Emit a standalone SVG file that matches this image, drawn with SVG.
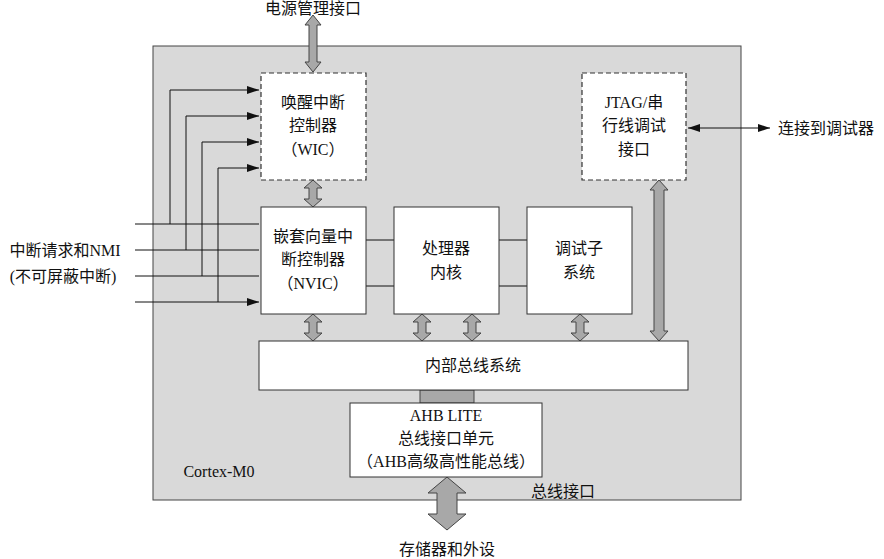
<svg xmlns="http://www.w3.org/2000/svg" width="884" height="559" viewBox="0 0 884 559">
<style>
text{font-family:"Liberation Serif","Noto Sans CJK SC",serif;font-size:16px;fill:#111;text-anchor:middle}
.box{fill:#fff;stroke:#333;stroke-width:1}
.dash{fill:#fff;stroke:#333;stroke-width:1.2;stroke-dasharray:5,3}
.ba{fill:#a8a8a8;stroke:#444;stroke-width:1}
.ln{fill:none;stroke:#111;stroke-width:1}
</style>
<defs>
<marker id="ah" markerWidth="12" markerHeight="8" refX="12" refY="4" orient="auto" markerUnits="userSpaceOnUse"><path d="M0,0 L12,4 L0,8 Z" fill="#111"/></marker>
<marker id="ahs" markerWidth="12" markerHeight="8" refX="0" refY="4" orient="auto" markerUnits="userSpaceOnUse"><path d="M12,0 L0,4 L12,8 Z" fill="#111"/></marker>
</defs>
<rect x="0" y="0" width="884" height="559" fill="#fff"/>
<g id="chip"><rect x="153" y="46" width="588" height="454" fill="#d9d9d9" stroke="#444"/>
<text x="219" y="477">Cortex-M0</text><text x="563" y="497">总线接口</text></g>
<g id="connectors">
<path class="ln" d="M135,224H259M135,250H259M135,276H259M135,302H259" marker-end="url(#ah)"/>
<path class="ln" d="M170,224V90H259" marker-end="url(#ah)"/>
<path class="ln" d="M186,250V116H259" marker-end="url(#ah)"/>
<path class="ln" d="M202,276V142H259" marker-end="url(#ah)"/>
<path class="ln" d="M218,302V168H259" marker-end="url(#ah)"/>
<path class="ln" d="M366,240H394M366,286H394M499,240H527M499,286H527"/>
<path class="ln" d="M688,128H770" marker-start="url(#ahs)" marker-end="url(#ah)"/>
<rect x="420" y="390" width="54" height="13" fill="#a8a8a8" stroke="#444"/>
<path class="ba" d="M313,15L321,25L317,25L317,62L321,62L313,72L305,62L309,62L309,25L305,25Z"/>
<path class="ba" d="M313,180L322,188L317,188L317,199L322,199L313,207L304,199L309,199L309,188L304,188Z"/>
<path class="ba" d="M313,314L322,322L317,322L317,333L322,333L313,341L304,333L309,333L309,322L304,322Z"/>
<path class="ba" d="M422,314L431,322L426,322L426,333L431,333L422,341L413,333L418,333L418,322L413,322Z"/>
<path class="ba" d="M472,314L481,322L476,322L476,333L481,333L472,341L463,333L468,333L468,322L463,322Z"/>
<path class="ba" d="M580,314L589,322L584,322L584,333L589,333L580,341L571,333L576,333L576,322L571,322Z"/>
<path class="ba" d="M659,180L668,190L664,190L664,331L668,331L659,341L650,331L654,331L654,190L650,190Z"/>
<path class="ba" d="M447,477L466,493L457,493L457,514L466,514L447,530L428,514L437,514L437,493L428,493Z"/>
</g>
<g id="labels"><text x="313" y="14">电源管理接口</text>
<text x="65" y="256">中断请求和NMI</text><text x="63" y="282">(不可屏蔽中断)</text>
<text x="826" y="134">连接到调试器</text><text x="447" y="555">存储器和外设</text></g>
<g id="wic"><rect class="dash" x="261" y="73" width="105" height="107"/><text x="313" y="108">唤醒中断</text><text x="313" y="131">控制器</text><text x="313" y="155">（WIC）</text></g>
<g id="jtag"><rect class="dash" x="582" y="73" width="104" height="107"/><text x="634" y="108">JTAG/串</text><text x="634" y="131">行线调试</text><text x="634" y="155">接口</text></g>
<g id="nvic"><rect class="box" x="261" y="207" width="105" height="107"/><text x="313" y="242">嵌套向量中</text><text x="313" y="265">断控制器</text><text x="313" y="289">（NVIC）</text></g>
<g id="core"><rect class="box" x="394" y="207" width="105" height="107"/><text x="446" y="254">处理器</text><text x="446" y="278">内核</text></g>
<g id="debug"><rect class="box" x="527" y="207" width="105" height="107"/><text x="579" y="254">调试子</text><text x="579" y="278">系统</text></g>
<g id="bus"><rect class="box" x="259" y="341" width="429" height="49"/><text x="473" y="371">内部总线系统</text></g>
<g id="ahb"><rect class="box" x="350" y="403" width="192" height="74"/><text x="446" y="421">AHB LITE</text><text x="446" y="444">总线接口单元</text><text x="446" y="467">（AHB高级高性能总线）</text></g>
</svg>
